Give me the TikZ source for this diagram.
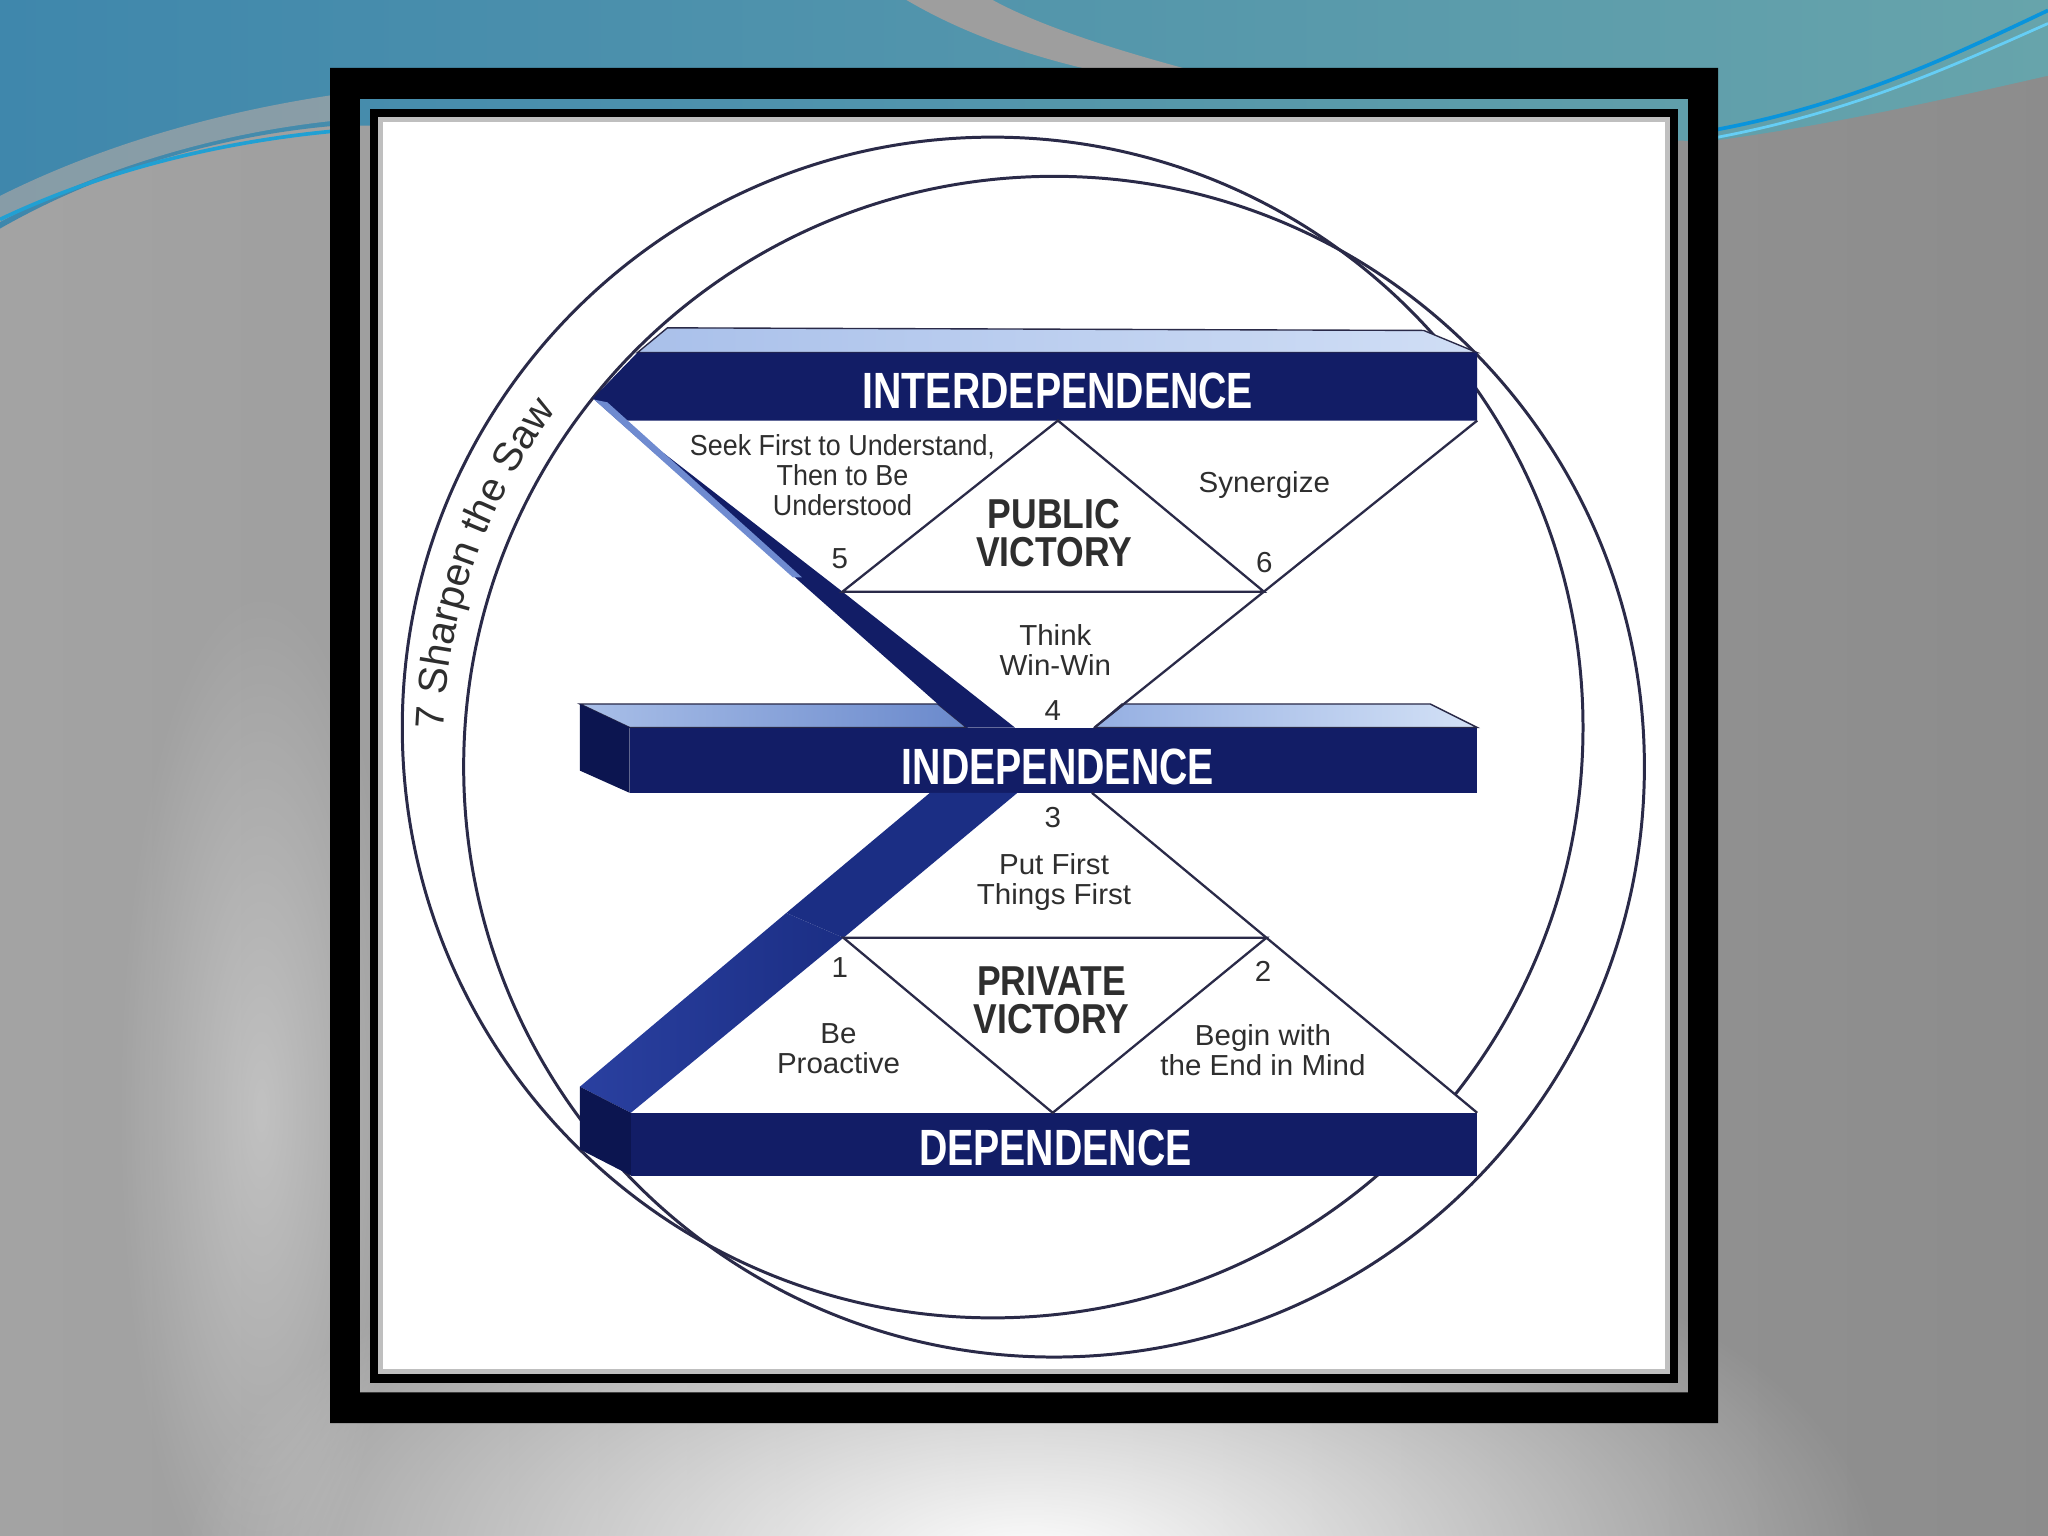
\documentclass[tikz,border=0pt]{standalone}
\usepackage{fontspec}
\setmainfont{Liberation Sans}
\newfontfamily\barfont{Liberation Sans}[FakeStretch=0.77]
\newfontfamily\vicfont{Liberation Sans}[FakeStretch=0.85]
\newfontfamily\habfont{Liberation Sans}[FakeStretch=1.02]
\newfontfamily\seekfont{Liberation Sans}[FakeStretch=0.93]
\usetikzlibrary{decorations.text,fadings}
\definecolor{navy}{HTML}{121D66}
\definecolor{navyend}{HTML}{0C1550}
\definecolor{navydiag}{HTML}{1B2E84}
\definecolor{navylow}{HTML}{2A40A0}
\definecolor{linecol}{HTML}{2A2A48}
\definecolor{labelcol}{HTML}{2E2E2E}
\definecolor{tealA}{HTML}{3F87AC}
\definecolor{tealB}{HTML}{67A4AB}
\definecolor{faceA}{HTML}{A9C0EA}
\definecolor{faceB}{HTML}{D0DEF5}
\definecolor{faceC}{HTML}{A9BFE8}
\definecolor{faceD}{HTML}{6A89CC}
\definecolor{faceE}{HTML}{95AFE2}
\definecolor{faceF}{HTML}{D3E1F6}
\definecolor{stripe}{HTML}{6F8BD0}
\tikzfading[name=glow, inner color=transparent!0, outer color=transparent!100]
\tikzset{ bartext/.style={text=white,inner sep=0pt,font=\barfont\bfseries\fontsize{11.1}{12}\selectfont},
  victext/.style={text=labelcol,inner sep=0pt,align=center,font=\vicfont\bfseries\fontsize{9.1}{8.3}\selectfont},
  habit/.style={text=labelcol,inner sep=0pt,align=center,font=\habfont\fontsize{6.3}{6.5}\selectfont},
  edgeline/.style={draw=linecol,line width=0.5pt},
  ring/.style={draw=linecol,line width=0.65pt},
  topface/.style={draw=linecol,line width=0.3pt} }

\begin{document}
\begin{tikzpicture}[x=0.01cm,y=-0.01cm]
   \useasboundingbox (0,0) rectangle (1568,1176);
   % slide background
   \shade[left color=black!36,right color=black!45] (0,0) rectangle (1568,1176);
   \fill[white,path fading=glow] (790,1200) ellipse [x radius=650, y radius=300];
   \fill[white,path fading=glow,opacity=0.35] (200,850) ellipse [x radius=110, y radius=400];
   \shade[left color=tealA,right color=tealB] (0,0) -- (1568,0) -- (1568,58) .. controls (1480,78) and (1400,96) .. (1310,108) -- (260,96) .. controls (160,104) and (70,135) .. (0,175) -- cycle;
   \fill[black!38] (694,0) .. controls (745,30) and (810,52) .. (900,66) -- (960,66) .. controls (870,44) and (800,22) .. (760,0) -- cycle;
   \fill[black!35,opacity=0.7] (0,150) .. controls (80,110) and (170,85) .. (260,72) -- (260,92) .. controls (160,102) and (70,132) .. (0,170) -- cycle;
   \draw[cyan!70!teal,line width=0.8pt] (0,168) .. controls (80,130) and (170,108) .. (260,100);
   \draw[cyan!80!blue,line width=0.8pt] (1310,100) .. controls (1420,80) and (1500,40) .. (1568,8);
   \draw[cyan!60!white,line width=0.6pt] (1310,106) .. controls (1420,86) and (1500,48) .. (1568,18);
   % frame
   \fill[black,even odd rule] (252.7,52) rectangle (1315.5,1089.5) (275.6,75.8) rectangle (1292.5,1066);
   \fill[black] (283.3,83.5) rectangle (1284.8,1059);
   \fill[white] (291,91) rectangle (1277,1050.5);
   \draw[black!25,line width=1pt] (291.5,91.5) rectangle (1276.5,1050);
   % circles
   \draw[ring] (760,557) circle[radius=452];
   \draw[ring] (807,587) circle[radius=452];
   % key points
   \coordinate (iTip) at (454,305);
   \coordinate (iTL) at (511,251);
   \coordinate (iTR) at (1090,253);
   \coordinate (iFL) at (488,270);
   \coordinate (iFR) at (1131,270);
   \coordinate (iBR) at (1131,322);
   \coordinate (iBL) at (476,322);
   \coordinate (pvTop) at (810,322);
   \coordinate (c5) at (645,453);
   \coordinate (c6) at (967.7,453);
   \coordinate (dUp) at (777,557);
   \coordinate (dUpL) at (740,557);
   \coordinate (dUpT) at (718,539);
   \coordinate (l1End) at (838,557);
   \coordinate (nTL) at (444,539);
   \coordinate (nFL) at (482,557);
   \coordinate (nBL) at (482,607);
   \coordinate (nEB) at (444,590);
   \coordinate (nTR) at (1095,539);
   \coordinate (nFR) at (1131,557);
   \coordinate (nBR) at (1131,607);
   \coordinate (nL1) at (859,539);
   \coordinate (dLoL) at (712,607);
   \coordinate (dLoR) at (779,607);
   \coordinate (seam) at (602,699);
   \coordinate (c1) at (645.8,718);
   \coordinate (c2) at (969.6,718);
   \coordinate (l2Top) at (836,607);
   \coordinate (pvBot) at (806,852);
   \coordinate (eTL) at (444,832);
   \coordinate (eFL) at (483,852);
   \coordinate (eBL) at (483,900);
   \coordinate (eEB) at (444,880);
   \coordinate (eFR) at (1131,852);
   \coordinate (eBR) at (1131,900);
   \fill[white] (iBL) -- (iBR) -- (l1End) -- (dUp) -- cycle;
   \fill[white] (dLoR) -- (l2Top) -- (eFR) -- (eFL) -- cycle;
   % interdependence
   \shadedraw[left color=faceA,right color=faceB,topface] (iTL) -- (iTR) -- (iFR) -- (iFL) -- cycle;
   \fill[navy] (iFL) -- (iFR) -- (iBR) -- (iBL) -- (iTip) -- cycle;
   % independence
   \shadedraw[left color=faceC,right color=faceD,topface] (nTL) -- (dUpT) -- (dUpL) -- (nFL) -- cycle;
   \shadedraw[left color=faceE,right color=faceF,topface] (nL1) -- (nTR) -- (nFR) -- (l1End) -- cycle;
   \fill[navyend] (nTL) -- (nFL) -- (nBL) -- (nEB) -- cycle;
   \fill[navy] (nFL) -- (nFR) -- (nBR) -- (nBL) -- cycle;
   % diagonals
   \fill[navy] (iTip) -- (iBL) -- (c5) -- (dUp) -- (dUpL) -- (dUpT) -- cycle;
   \fill[stripe] (455,306) -- (465,308) -- (614,442) -- (607,442) -- cycle;
   \fill[navydiag] (dLoL) -- (dLoR) -- (c1) -- (seam) -- cycle;
   \shade[left color=navylow,right color=navydiag] (seam) -- (c1) -- (eFL) -- (eTL) -- cycle;
   % dependence
   \fill[navyend] (eTL) -- (eFL) -- (eBL) -- (eEB) -- cycle;
   \fill[navy] (eFL) -- (eFR) -- (eBR) -- (eBL) -- cycle;
   % triangles
   \draw[edgeline] (pvTop) -- (c5) -- (c6) -- cycle;
   \draw[edgeline] (iBR) -- (l1End);
   \draw[edgeline] (c1) -- (c2) -- (pvBot) -- cycle;
   \draw[edgeline] (l2Top) -- (eFR);
   % labels
   \node[bartext] (interdep) at (810,299) {INTERDEPENDENCE};
   \node[bartext] (indep) at (810,587) {INDEPENDENCE};
   \node[bartext] (dep) at (808,879) {DEPENDENCE};
   \node[victext] (pubvic) at (807,408) {PUBLIC\\VICTORY};
   \node[victext] (privic) at (805,766) {PRIVATE\\VICTORY};
   \node[habit,font=\seekfont\fontsize{6.3}{6.5}\selectfont] (h5) at (645,364) {Seek First to Understand,\\Then to Be\\Understood};
   \node[habit] (n5) at (643,428) {5};
   \node[habit] (h6) at (968,371) {Synergize};
   \node[habit] (n6) at (968,431) {6};
   \node[habit] (h4) at (808,498) {Think\\Win-Win};
   \node[habit] (n4) at (806,544) {4};
   \node[habit] (n3) at (806,626) {3};
   \node[habit] (h3) at (807,675) {Put First\\Things First};
   \node[habit] (n1) at (643,741) {1};
   \node[habit] (n2) at (967,744) {2};
   \node[habit] (h1) at (642,803) {Be\\Proactive};
   \node[habit] (h2) at (967,804) {Begin with\\the End in Mind};
   \path[decorate,decoration={text along path,text align=center,text color=labelcol,
      text={|\fontsize{8.8}{9}\selectfont|7 Sharpen the Saw}}] (775,575) ++(181:436) arc[start angle=181,end angle=218,radius=436];
\end{tikzpicture}
\end{document}
